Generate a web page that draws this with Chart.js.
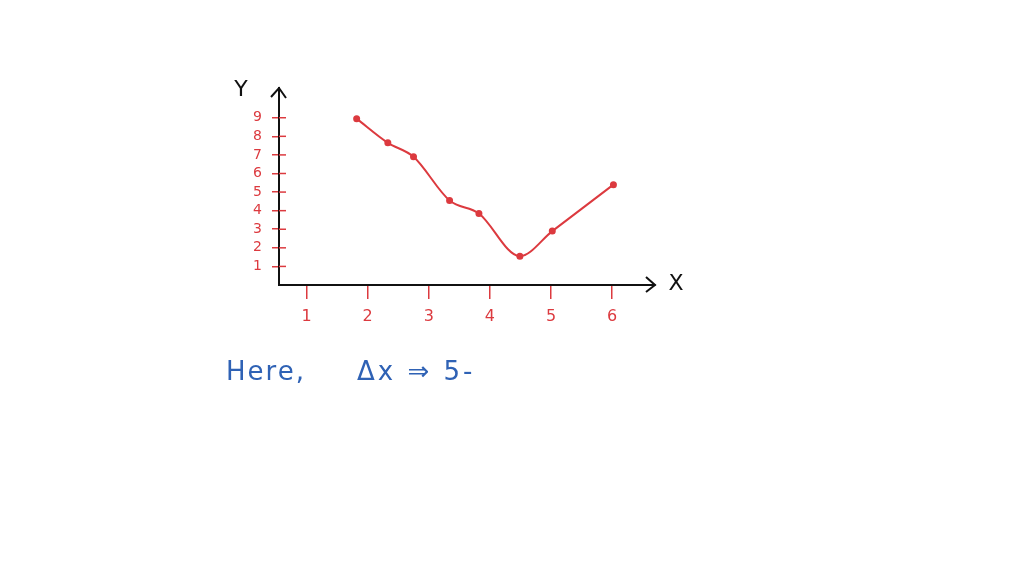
<!DOCTYPE html>
<html lang="en">
<head>
    <meta charset="UTF-8">
    <title>Sketch chart</title>
    <script src="https://cdn.jsdelivr.net/npm/chart.js"></script>
    <style>
        body {
            margin: 0;
            padding: 0;
            background-color: #ffffff;
        }
        .wrap {
            position: relative;
            width: 1024px;
            height: 576px;
        }
        .note {
            position: absolute;
            top: 356px;
            font-family: 'DejaVu Sans', sans-serif;
            font-size: 26px;
            color: #2f62b5;
            white-space: pre;
        }
    </style>
</head>
<body>
    <div class="wrap">
        <canvas id="sketchChart" width="1024" height="576"></canvas>
        <div class="note" style="left:226px; letter-spacing:2px;">Here,</div>
        <div class="note" style="left:357px; letter-spacing:3px;">Δx ⇒ 5-</div>
    </div>

    <script>
        // values
        const xValues = [1.82, 2.33, 2.75, 3.34, 3.82, 4.49, 5.02, 6.02];
        const yValues = [8.95, 7.65, 6.9, 4.55, 3.85, 1.55, 2.9, 5.4];
        const xTickLabels = [1, 2, 3, 4, 5, 6];
        const yTickLabels = [1, 2, 3, 4, 5, 6, 7, 8, 9];

        const red = '#dc3a3f';

        // arrows, axis letters and the inner half of the y ticks
        const axisExtras = {
            id: 'axisExtras',
            afterDraw(chart) {
                const c = chart.ctx;
                const a = chart.chartArea;
                c.save();
                c.strokeStyle = red;
                c.lineWidth = 1.5;
                chart.scales.y.ticks.forEach(t => {
                    const py = chart.scales.y.getPixelForValue(t.value);
                    c.beginPath();
                    c.moveTo(a.left, py);
                    c.lineTo(a.left + 7, py);
                    c.stroke();
                });
                c.strokeStyle = '#111';
                c.lineWidth = 2;
                c.beginPath();
                c.moveTo(a.left - 8, a.top + 9);
                c.lineTo(a.left, a.top);
                c.lineTo(a.left + 7, a.top + 10);
                c.moveTo(a.right - 9, a.bottom - 8);
                c.lineTo(a.right, a.bottom);
                c.lineTo(a.right - 9, a.bottom + 7);
                c.stroke();
                c.fillStyle = '#111';
                c.font = '22px "DejaVu Sans", sans-serif';
                c.textAlign = 'center';
                c.textBaseline = 'middle';
                c.fillText('Y', a.left - 38, a.top + 2);
                c.fillText('X', a.right + 21, a.bottom - 1);
                c.restore();
            }
        };

        const sketchChart = new Chart(document.getElementById('sketchChart'), {
            type: 'line',
            data: {
                datasets: [{
                    data: xValues.map((x, i) => ({ x: x, y: yValues[i] })),
                    borderColor: red,
                    backgroundColor: red,
                    borderWidth: 2,
                    pointRadius: 2.5,
                    pointHoverRadius: 2.5,
                    cubicInterpolationMode: 'monotone',
                    fill: false
                }]
            },
            options: {
                responsive: false,
                animation: false,
                layout: {
                    padding: { left: 219, top: 88, right: 369, bottom: 231 }
                },
                plugins: {
                    legend: { display: false },
                    tooltip: { enabled: false }
                },
                scales: {
                    x: {
                        type: 'linear',
                        min: 0.55,
                        max: 6.7,
                        afterBuildTicks: s => { s.ticks = xTickLabels.map(v => ({ value: v })); },
                        afterFit: s => { s.height = 60; },
                        border: { color: '#111', width: 2 },
                        grid: {
                            drawOnChartArea: false,
                            drawTicks: true,
                            tickLength: 14,
                            tickColor: red,
                            lineWidth: 1.5
                        },
                        ticks: {
                            color: red,
                            padding: 8,
                            font: { family: 'DejaVu Sans', size: 16 }
                        }
                    },
                    y: {
                        type: 'linear',
                        min: 0,
                        max: 10.6,
                        afterBuildTicks: s => { s.ticks = yTickLabels.map(v => ({ value: v })); },
                        afterFit: s => { s.width = 60; },
                        border: { color: '#111', width: 2 },
                        grid: {
                            drawOnChartArea: false,
                            drawTicks: true,
                            tickLength: 7,
                            tickColor: red,
                            lineWidth: 1.5
                        },
                        ticks: {
                            color: red,
                            padding: 10,
                            autoSkip: false,
                            font: { family: 'DejaVu Sans', size: 14 }
                        }
                    }
                }
            },
            plugins: [axisExtras]
        });
    </script>
</body>
</html>
